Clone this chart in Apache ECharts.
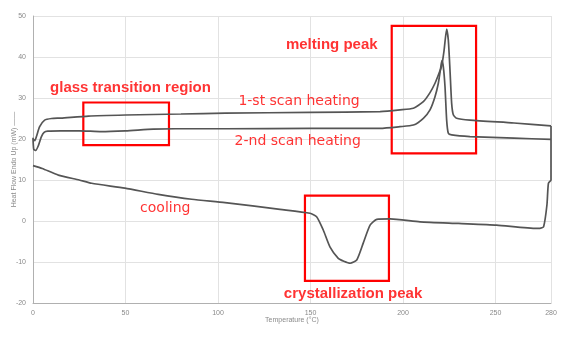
<!DOCTYPE html>
<html>
<head>
<meta charset="utf-8">
<script src="https://cdn.jsdelivr.net/npm/echarts@6/dist/echarts.min.js"></script>
<style>html,body{margin:0;padding:0;background:#fff}#c{width:564px;height:341px}</style>
</head>
<body>
<div id="c"></div>
<script>
// Temperature (°C) / Heat flow (mW)
const scan1T = [0,0.5,1,2,3.6,6.3,10,15,30,50,80,104,150,187.6,198.4,205.6,211,214.6,217.3,219.1,220.9,222.2,223.6,224.5,225.4,226.3,227.2,229,236.2,260,280];
const scan1V = [20.0,19.8,19.6,20.8,23.0,24.6,25.0,25.1,25.6,25.85,26.1,26.3,26.5,26.7,27.1,27.5,29.1,31.3,33.6,35.6,37.8,41.6,46.8,44.1,36.8,28.7,25.9,25.05,24.6,23.9,23.2];

const scan2T = [0,0.4,1.5,3,4.5,6,8,15,25,37,50,65,77,104,150,187.6,198.4,205.6,211,214.6,217.3,219.1,220.2,221,221.8,222.7,223.6,224.5,226.3,236.2,260,280];
const scan2V = [20.3,17.5,17.2,18.5,20.5,21.6,21.9,22.0,22.0,21.8,22.0,22.4,22.5,22.5,22.6,22.6,23.0,23.4,25.05,27.1,30.3,33.6,36.8,39.1,37.6,32.8,24.6,21.4,21.0,20.6,20.2,19.9];

const coolT = [280,280,280,278.6,277.8,276,274,272.3,250.6,230,209.2,193,185.8,182.2,178.5,175,171.4,168,165,160.5,156.9,153.3,149.7,133.5,103.8,85.8,67.7,49.7,31.7,25,13.7,5,0];
const coolV = [23.2,19.9,10,9.2,3.9,-1.4,-1.8,-1.8,-1.0,-0.6,-0.2,0.5,0.4,-1.0,-5.4,-9.5,-10.3,-9.8,-9.1,-6.3,-2.2,1.05,1.9,2.85,4.5,5.3,6.5,8.0,9.2,10,11.2,12.8,13.5];

const xTicks = {min: 0, max: 280, interval: 50};
const yTicks = {min: -20, max: 50, interval: 10};

// annotation boxes [T1, V1, T2, V2]
const boxes = [
  [27.2, 28.9, 73.5, 18.5],
  [193.9, 47.6, 239.5, 16.5],
  [147, 6.2, 192.4, -14.6]
];
// annotation texts
const noteText = ['glass transition region','melting peak','crystallization peak','1-st scan heating','2-nd scan heating','cooling'];
const noteT = [52.7, 161.5, 173, 143.8, 143.1, 71.5];
const noteV = [32.4, 42.9, -17.8, 29.1, 19.5, 3.1];
const noteBold = [true, true, true, false, false, false];

const zip = (a, b) => a.map((x, i) => [x, b[i]]);
const lineStyle = {color: '#555555', width: 1.7};
const mkLine = (name, T, V) => ({
  name, type: 'line', data: zip(T, V), showSymbol: false, smooth: 0.2,
  lineStyle, animation: false, z: 3
});

const chart = echarts.init(document.getElementById('c'), null, {renderer: 'canvas'});
const axisLabelStyle = {fontSize: 7, color: '#8a8a8a', fontFamily: 'Liberation Sans'};
chart.setOption({
  animation: false,
  grid: {left: 33, right: 13, top: 16, bottom: 38, containLabel: false, outerBoundsMode: 'none'},
  xAxis: {
    type: 'value', min: xTicks.min, max: xTicks.max, interval: xTicks.interval,
    axisLine: {show: true, onZero: false, lineStyle: {color: '#b0b0b0'}},
    axisTick: {show: false},
    axisLabel: Object.assign({margin: 7, showMaxLabel: true}, axisLabelStyle),
    splitLine: {show: true, lineStyle: {color: '#e2e2e2'}},
    name: 'Temperature (°C)', nameLocation: 'middle', nameGap: 14, nameMoveOverlap: false,
    nameTextStyle: axisLabelStyle
  },
  yAxis: {
    type: 'value', min: yTicks.min, max: yTicks.max, interval: yTicks.interval,
    axisLine: {show: true, onZero: false, lineStyle: {color: '#b0b0b0'}},
    axisTick: {show: false},
    axisLabel: Object.assign({margin: 7}, axisLabelStyle),
    splitLine: {show: true, lineStyle: {color: '#e2e2e2'}},
    name: 'Heat Flow Endo Up (mW) ——', nameLocation: 'middle', nameGap: 15, nameMoveOverlap: false,
    nameTextStyle: axisLabelStyle
  },
  series: [
    mkLine('1-st scan heating', scan1T, scan1V),
    mkLine('2-nd scan heating', scan2T, scan2V),
    Object.assign(mkLine('cooling', coolT, coolV), {
      markArea: {
        silent: true,
        itemStyle: {color: 'rgba(0,0,0,0)', borderColor: '#ff0000', borderWidth: 2.2},
        data: boxes.map(b => [{coord: [b[0], b[1]]}, {coord: [b[2], b[3]]}])
      }
    }),
    {
      type: 'scatter', silent: true, z: 5, symbolSize: 1,
      itemStyle: {color: 'rgba(0,0,0,0)'},
      data: noteText.map((t, i) => ({
        value: [noteT[i], noteV[i]],
        label: {
          show: true, position: 'inside', formatter: t,
          color: '#ff0000',
          fontFamily: noteBold[i] ? 'Liberation Sans' : 'DejaVu Sans',
          fontWeight: noteBold[i] ? 'bold' : 'normal',
          fontSize: noteBold[i] ? 15 : 14
        }
      }))
    }
  ]
});
</script>
</body>
</html>
